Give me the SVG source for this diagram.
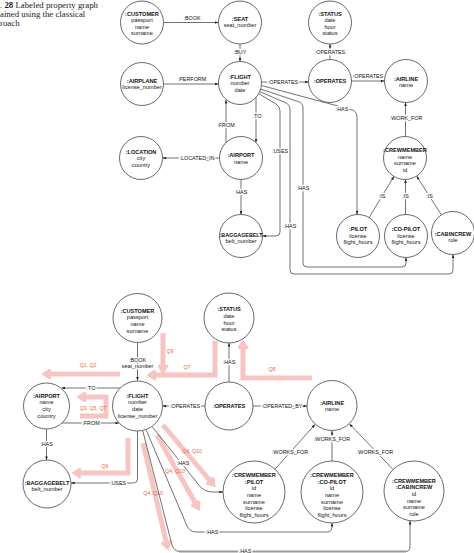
<svg xmlns="http://www.w3.org/2000/svg" width="474" height="553" viewBox="0 0 474 553">
<style>
text{font-family:"Liberation Sans",Arial,sans-serif;text-anchor:middle;dominant-baseline:central;fill:#111}
.n circle{fill:#fff;stroke:#444;stroke-width:0.8}
.t{font-size:5.6px;font-weight:bold}
.a{font-size:5.6px}
.e{fill:none;stroke:#333;stroke-width:0.7;marker-end:url(#ah)}
.l{font-size:5.4px;stroke:#fff;stroke-width:2.5px;paint-order:stroke;stroke-linejoin:round}
.lp{font-size:5.4px}
.q{fill:none;stroke:#f7c4c4;stroke-width:5;marker-end:url(#qa)}
.ql{font-size:5.2px;fill:#e8643c}
.cap{font-family:"Liberation Serif","Times New Roman",serif;font-size:8.8px;text-anchor:start;dominant-baseline:auto;fill:#222}
</style>
<defs>
<marker id="ah" viewBox="0 0 8 6" refX="8" refY="3" markerWidth="3.6" markerHeight="3" markerUnits="userSpaceOnUse" orient="auto"><path d="M0,0L8,3L0,6z" fill="#222"/></marker>
<marker id="qa" viewBox="0 0 10 10" refX="5" refY="5" markerWidth="11" markerHeight="11" markerUnits="userSpaceOnUse" orient="auto"><path d="M1.5,1L7.5,5L1.5,9" fill="none" stroke="#f7c4c4" stroke-width="3"/></marker>
</defs>
<rect width="474" height="553" fill="#fff"/>
<g id="caption">
<text class="cap" x="0" y="7.5">. <tspan font-weight="bold">28</tspan> Labeled property graph</text>
<text class="cap" x="0" y="16.7">ained using the classical</text>
<text class="cap" x="0" y="25.7">roach</text>
</g>

<g id="queries">
<path class="q" d="M120,374H47"/>
<path class="q" d="M163,333V369"/>
<path class="q" d="M215,341V375H152"/>
<path class="q" d="M312,378H243V345"/>
<path class="q" d="M80,416H106V397H82"/>
<path class="q" d="M128,438V473H77"/>
<path class="q" d="M163,425L212,483"/>
<path class="q" d="M157,435L197,506"/>
<path class="q" d="M143,443L167,545"/>
<text class="ql" x="88" y="365">Q1, Q2</text>
<text class="ql" x="170" y="351">Q9</text>
<text class="ql" x="187" y="367">Q7</text>
<text class="ql" x="272" y="369">Q8</text>
<text class="ql" x="93" y="407.5">Q3, Q5, Q7</text>
<text class="ql" x="105" y="466">Q6</text>
<text class="ql" x="192" y="451">Q4, Q10</text>
<text class="ql" x="175" y="471">Q4, Q10</text>
<text class="ql" x="153" y="493">Q4, Q10</text>
</g>

<g id="connectors">
<path class="e" d="M163.5,22.5H218.5"/><text class="lp" x="192" y="17.5">:BOOK</text>
<path class="e" d="M240,44V61.5"/><text class="l" x="240" y="51.5">:BUY</text>
<path class="e" d="M163.5,84H218.5"/><text class="lp" x="192" y="78.5">:PERFORM</text>
<path class="e" d="M261.5,82H308.5"/><text class="l" x="283" y="82">:OPERATES</text>
<path class="e" d="M330,59.5V44"/><text class="l" x="330" y="52">:OPERATES</text>
<path class="e" d="M351.5,81H384.5"/><text class="lp" x="368" y="76">:OPERATES</text>
<path class="e" d="M405.5,136.5V102.5"/><text class="l" x="406" y="118">:WORK_FOR</text>
<path class="e" d="M226,142.5V100"/><text class="l" x="226" y="125">:FROM</text>
<path class="e" d="M256,97.5V142.5"/><text class="l" x="257" y="116">:TO</text>
<path class="e" d="M219.5,158H162.5"/><text class="l" x="197" y="158">:LOCATED_IN</text>
<path class="e" d="M241,179.5V214.5"/><text class="l" x="241" y="192">:HAS</text>
<path class="e" d="M258.5,93.5L276,104Q280,106.5 280,111V232Q280,236 276,236H262.5"/><text class="l" x="280" y="151">:USES</text>
<path class="e" d="M259.5,91.5L285,102.5Q290,104.5 290,109.5V270Q290,274 294,274H449Q453,274 453,270V254.5"/><text class="l" x="290" y="226">:HAS</text>
<path class="e" d="M260.5,89L298,101.5Q303,103 303,108V263Q303,267 307,267H402Q406,267 406,263V257.5"/><text class="l" x="303" y="188">:HAS</text>
<path class="e" d="M261.5,85.5L351,109.5Q357,111 357,117V214.5"/><text class="l" x="342" y="108.5">:HAS</text>
<path class="e" d="M369.1,217.6L393.9,176.4"/><text class="l" x="382" y="196">:IS</text>
<path class="e" d="M405.5,214.5V179.5"/><text class="l" x="405.5" y="196">:IS</text>
<path class="e" d="M441.4,214.9L416.6,176.1"/><text class="l" x="429.5" y="196">:IS</text>

<path class="e" d="M137.5,342.5V380.5"/><text class="l" x="137.5" y="359.5">:BOOK</text><text class="l" x="137.5" y="366.3">seat_number</text>
<path class="e" d="M120,388H61.5"/><text class="l" x="91" y="388">:TO</text>
<path class="e" d="M62,423H119"/><text class="l" x="91" y="423">:FROM</text>
<path class="e" d="M205,406H162.5"/><text class="l" x="185" y="406">:OPERATES</text>
<path class="e" d="M253,406H307"/><text class="l" x="282" y="406">:OPERATED_BY</text>
<path class="e" d="M229,382V343"/><text class="l" x="229" y="362">:HAS</text>
<path class="e" d="M46.5,429V460"/><text class="l" x="46.5" y="444">:HAS</text>
<path class="e" d="M137.5,431V479Q137.5,483 133.5,483H71"/><text class="l" x="118" y="483">:USES</text>
<path class="e" d="M152,426.5L198,484Q204,492 212,492H223"/><text class="l" x="183" y="463">:HAS</text>
<path class="e" d="M146,429.5L187,526Q190,532 196,532H327Q332,532 332,527V523"/><text class="l" x="212" y="532">:HAS</text>
<path class="e" d="M142.7,430.5L172,545Q174,551.5 180,551.5H405Q410,551.5 410,546.5V521"/>
<path d="M179,551.5H406" fill="none" stroke="#999" stroke-width="2"/><text class="l" x="245" y="551">:HAS</text>
<path class="e" d="M275,469.2L315.1,424.4"/><text class="l" x="290" y="452">:WORKS_FOR</text>
<path class="e" d="M332,461V431"/><text class="l" x="332" y="439">:WORKS_FOR</text>
<path class="e" d="M393.1,469.5L349.5,423.9"/><text class="l" x="375" y="452">:WORKS_FOR</text>
</g>

<g id="t-customer" class="n"><circle cx="142" cy="22.5" r="21.5"/><text x="142" y="13.5" class="t">:CUSTOMER</text><text x="142" y="20" class="a">passport</text><text x="142" y="26.5" class="a">name</text><text x="142" y="33" class="a">surname</text></g>
<g id="t-seat" class="n"><circle cx="240" cy="22.5" r="21.5"/><text x="240" y="18.5" class="t">:SEAT</text><text x="240" y="25" class="a">seat_number</text></g>
<g id="t-status" class="n"><circle cx="330" cy="22.5" r="21.5"/><text x="330" y="13.75" class="t">:STATUS</text><text x="330" y="20.25" class="a">date</text><text x="330" y="26.75" class="a">hour</text><text x="330" y="33.25" class="a">status</text></g>
<g id="t-airplane" class="n"><circle cx="142" cy="84" r="21.5"/><text x="142" y="80.5" class="t">:AIRPLANE</text><text x="142" y="87" class="a">license_number</text></g>
<g id="t-flight" class="n"><circle cx="240" cy="83" r="21.5"/><text x="240" y="76.5" class="t">:FLIGHT</text><text x="240" y="83" class="a">number</text><text x="240" y="89.5" class="a">date</text></g>
<g id="t-operates" class="n"><circle cx="330" cy="81" r="21.5"/><text x="330" y="81" class="t">:OPERATES</text></g>
<g id="t-airline" class="n"><circle cx="406" cy="81" r="21.5"/><text x="406" y="78.5" class="t">:AIRLINE</text><text x="406" y="85" class="a">name</text></g>
<g id="t-location" class="n"><circle cx="141" cy="158" r="21.5"/><text x="141" y="151.5" class="t">:LOCATION</text><text x="141" y="158" class="a">city</text><text x="141" y="164.5" class="a">country</text></g>
<g id="t-airport" class="n"><circle cx="241" cy="158" r="21.5"/><text x="241" y="155" class="t">:AIRPORT</text><text x="241" y="161.5" class="a">name</text></g>
<g id="t-baggagebelt" class="n"><circle cx="241" cy="236" r="21.5"/><text x="241" y="234.5" class="t" textLength="43" lengthAdjust="spacingAndGlyphs">:BAGGAGEBELT</text><text x="241" y="241" class="a">belt_number</text></g>
<g id="t-crewmember" class="n"><circle cx="405" cy="158" r="21.5"/><text x="405" y="150" class="t">:CREWMEMBER</text><text x="405" y="156.5" class="a">name</text><text x="405" y="163" class="a">surname</text><text x="405" y="169.5" class="a">id</text></g>
<g id="t-pilot" class="n"><circle cx="358" cy="236" r="21.5"/><text x="358" y="229" class="t">:PILOT</text><text x="358" y="235.5" class="a">license</text><text x="358" y="242" class="a">flight_hours</text></g>
<g id="t-copilot" class="n"><circle cx="406" cy="236" r="21.5"/><text x="406" y="229" class="t">:CO-PILOT</text><text x="406" y="235.5" class="a">license</text><text x="406" y="242" class="a">flight_hours</text></g>
<g id="t-cabincrew" class="n"><circle cx="453" cy="233" r="21.5"/><text x="453" y="233.5" class="t">:CABINCREW</text><text x="453" y="240" class="a">role</text></g>

<g id="b-customer" class="n"><circle cx="137.5" cy="318" r="24.5"/><text x="137.5" y="310.7" class="t">:CUSTOMER</text><text x="137.5" y="317.3" class="a">passport</text><text x="137.5" y="324" class="a">name</text><text x="137.5" y="330.7" class="a">surname</text></g>
<g id="b-status" class="n"><circle cx="229" cy="318" r="25"/><text x="229" y="309.3" class="t">:STATUS</text><text x="229" y="316" class="a">date</text><text x="229" y="322.7" class="a">hour</text><text x="229" y="329.3" class="a">status</text></g>
<g id="b-airport" class="n"><circle cx="46.5" cy="406" r="23"/><text x="46.5" y="395.7" class="t">:AIRPORT</text><text x="46.5" y="402.3" class="a">name</text><text x="46.5" y="409" class="a">city</text><text x="46.5" y="415.7" class="a">country</text></g>
<g id="b-flight" class="n"><circle cx="137.5" cy="406" r="25"/><text x="137.5" y="395.7" class="t">:FLIGHT</text><text x="137.5" y="402.3" class="a">number</text><text x="137.5" y="409" class="a">date</text><text x="137.5" y="415.7" class="a">license_number</text></g>
<g id="b-operates" class="n"><circle cx="229" cy="406" r="24"/><text x="229" y="406" class="t">:OPERATES</text></g>
<g id="b-airline" class="n"><circle cx="332" cy="405.5" r="25"/><text x="332" y="402.7" class="t">:AIRLINE</text><text x="332" y="409.3" class="a">name</text></g>
<g id="b-baggagebelt" class="n"><circle cx="47" cy="484" r="24"/><text x="47" y="482.7" class="t">:BAGGAGEBELT</text><text x="47" y="489.3" class="a">belt_number</text></g>
<g id="b-cw-pilot" class="n"><circle cx="254" cy="492" r="31"/><text x="254" y="475" class="t">:CREWMEMBER</text><text x="254" y="481.7" class="t">:PILOT</text><text x="254" y="488.3" class="a">id</text><text x="254" y="495" class="a">name</text><text x="254" y="501.7" class="a">surname</text><text x="254" y="508.3" class="a">license</text><text x="254" y="515" class="a">flight_hours</text></g>
<g id="b-cw-copilot" class="n"><circle cx="332" cy="492" r="31"/><text x="332" y="475" class="t">:CREWMEMBER</text><text x="332" y="481.7" class="t">:CO-PILOT</text><text x="332" y="488.3" class="a">id</text><text x="332" y="495" class="a">name</text><text x="332" y="501.7" class="a">surname</text><text x="332" y="508.3" class="a">license</text><text x="332" y="515" class="a">flight_hours</text></g>
<g id="b-cw-cabincrew" class="n"><circle cx="414" cy="491" r="30"/><text x="414" y="480.7" class="t">:CREWMEMBER</text><text x="414" y="487.3" class="t">:CABINCREW</text><text x="414" y="494" class="a">id</text><text x="414" y="500.7" class="a">name</text><text x="414" y="507.3" class="a">surname</text><text x="414" y="514" class="a">role</text></g>
</svg>
